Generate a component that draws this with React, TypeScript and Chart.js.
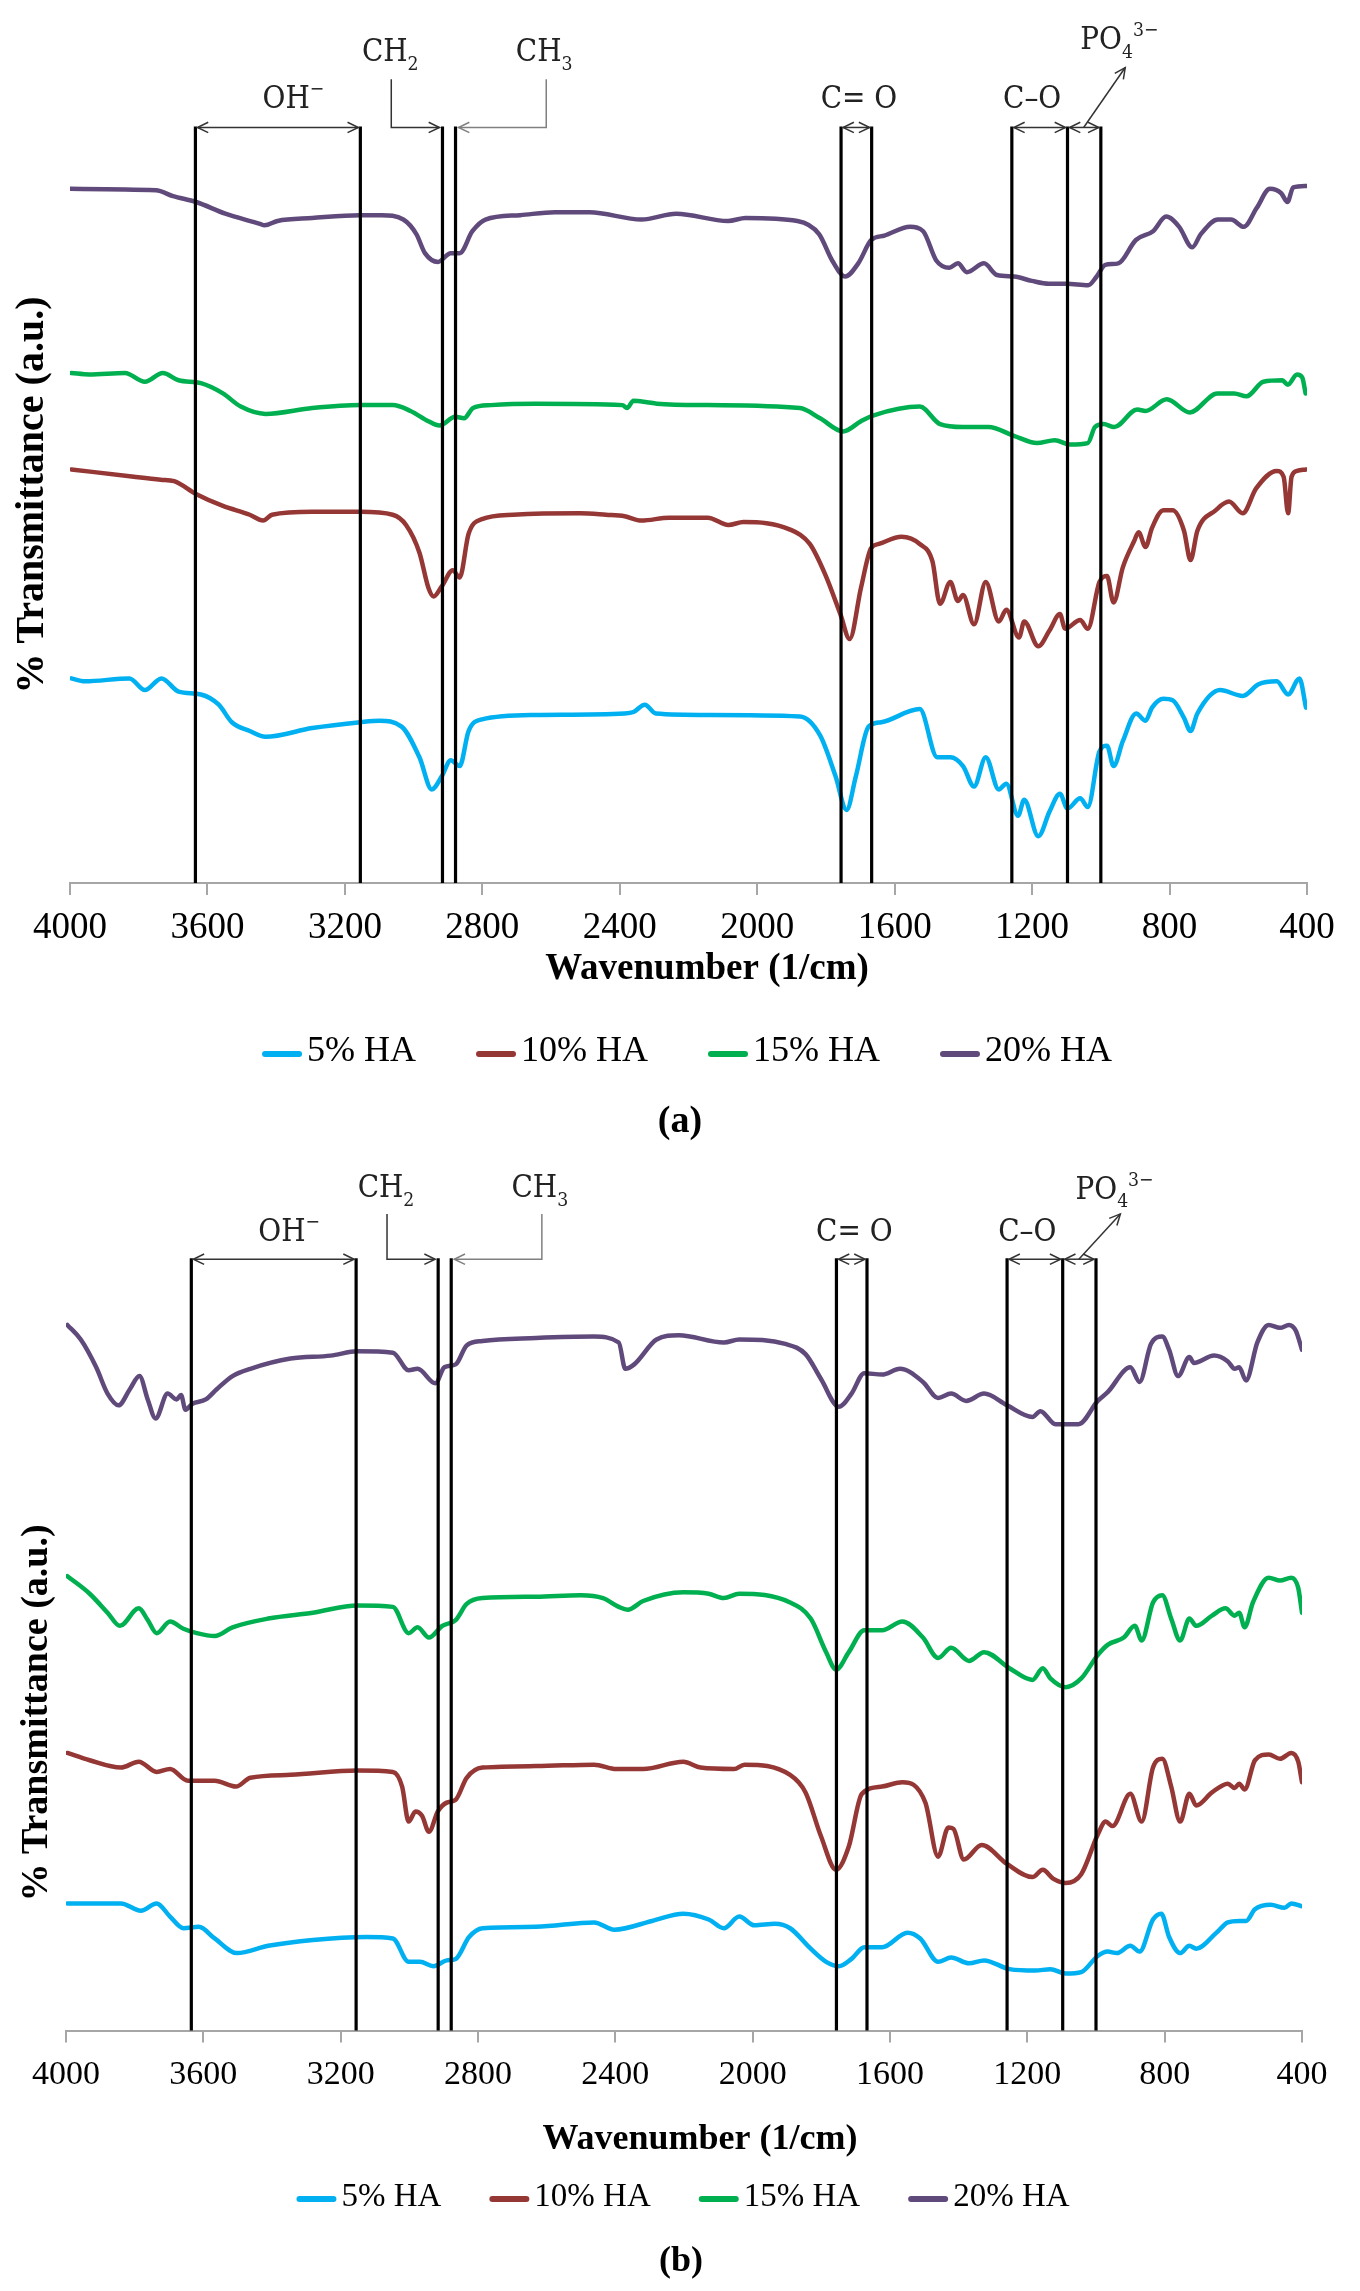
import React, { useEffect, useRef } from 'react';
import { Chart, registerables } from 'chart.js';

Chart.register(...registerables);

const wavenumberTicks = [4000, 3600, 3200, 2800, 2400, 2000, 1600, 1200, 800, 400];
const seriesNames = ['5% HA', '10% HA', '15% HA', '20% HA'];
const seriesColors = ['#00B0F0', '#953735', '#00B050', '#604A7B'];

// Panel (a): [wavenumber, transmittance (a.u., offset)]
const a5: [number, number][] = [[3996,140],[3957,138],[3827,140],[3782,132],[3734,140],[3684,131],[3619,129],[3567,122],[3529,110],[3477,104],[3431,100],[3295,106],[3155,110],[3100,111],[3035,107],[2983,86],[2947,64],[2918,73],[2892,84],[2866,80],[2840,104],[2801,112],[2645,115],[2386,116],[2360,117],[2327,122],[2295,116],[2144,115],[1876,114],[1817,101],[1772,73],[1740,50],[1713,73],[1676,107],[1639,110],[1527,119],[1476,86],[1438,86],[1401,80],[1369,66],[1335,86],[1297,64],[1275,68],[1241,46],[1223,57],[1182,32],[1149,49],[1119,61],[1097,51],[1060,58],[1038,52],[1004,90],[982,94],[963,80],[936,97],[897,116],[870,111],[851,120],[818,126],[791,125],[758,113],[739,104],[719,116],[653,132],[587,128],[541,136],[488,138],[455,129],[422,140],[403,120]];
const a10: [number, number][] = [[3996,283],[3814,278],[3736,276],[3697,275],[3632,266],[3555,258],[3477,252],[3438,248],[3412,252],[3295,254],[3155,254],[3061,252],[3022,245],[2983,226],[2957,202],[2942,196],[2918,203],[2886,214],[2866,209],[2840,239],[2801,249],[2710,252],[2516,253],[2440,252],[2386,251],[2337,248],[2256,250],[2144,250],[2084,245],[2040,247],[1906,242],[1847,232],[1802,211],[1758,184],[1731,167],[1698,202],[1669,229],[1646,232],[1580,237],[1527,232],[1490,220],[1468,191],[1438,206],[1416,193],[1401,197],[1369,177],[1335,206],[1297,179],[1275,187],[1238,168],[1223,179],[1182,162],[1149,173],[1119,184],[1104,174],[1060,180],[1038,174],[1004,206],[982,210],[963,192],[936,216],[903,234],[890,240],[870,230],[851,243],[818,255],[791,255],[758,241],[739,221],[719,241],[666,255],[627,261],[587,253],[548,270],[488,282],[468,278],[455,253],[445,278],[429,282],[403,283]];
const a15: [number, number][] = [[3996,349],[3944,348],[3840,349],[3782,343],[3730,349],[3684,344],[3619,342],[3555,335],[3503,326],[3431,321],[3295,325],[3155,327],[3061,327],[3009,323],[2957,316],[2925,313],[2879,319],[2853,318],[2827,325],[2775,327],[2645,328],[2392,327],[2379,325],[2360,330],[2321,329],[2292,328],[2144,327],[1876,325],[1817,318],[1750,309],[1698,316],[1661,320],[1527,326],[1468,314],[1401,312],[1327,312],[1253,306],[1186,301],[1134,303],[1090,300],[1038,301],[1017,312],[992,314],[961,312],[894,324],[870,323],[808,331],[741,322],[661,335],[612,335],[576,333],[527,343],[472,344],[456,341],[429,348],[414,346],[404,335]];
const a20: [number, number][] = [[4000,475],[3750,474],[3700,470],[3633,466],[3548,458],[3447,451],[3434,450],[3396,453],[3295,455],[3156,457],[3093,457],[3030,454],[2992,444],[2967,431],[2929,425],[2892,431],[2866,431],[2829,446],[2791,454],[2690,457],[2589,459],[2488,459],[2337,454],[2236,458],[2085,453],[2034,455],[1883,453],[1820,444],[1782,426],[1744,415],[1706,424],[1668,440],[1630,443],[1555,449],[1517,446],[1479,426],[1441,421],[1416,424],[1390,418],[1340,424],[1302,416],[1252,415],[1201,412],[1151,410],[1100,410],[1037,409],[1012,415],[987,423],[949,424],[898,440],[848,446],[810,456],[772,449],[734,435],[709,444],[659,454],[621,454],[584,449],[546,462],[508,475],[475,472],[457,466],[440,476],[401,477]];

// Panel (b)
const b5: [number, number][] = [[3996,87],[3840,87],[3782,82],[3736,87],[3697,78],[3658,70],[3613,71],[3567,63],[3502,53],[3411,58],[3281,62],[3125,64],[3048,63],[3002,47],[2969,47],[2930,44],[2891,48],[2865,49],[2826,64],[2787,70],[2631,71],[2462,74],[2403,69],[2293,75],[2202,80],[2128,76],[2084,70],[2039,78],[1995,72],[1935,73],[1891,70],[1831,56],[1786,47],[1749,44],[1712,49],[1675,57],[1623,57],[1549,67],[1512,63],[1460,47],[1422,50],[1370,46],[1326,48],[1252,42],[1177,41],[1133,42],[1088,39],[1043,40],[995,51],[966,54],[939,53],[900,58],[873,54],[834,76],[810,80],[787,64],[755,53],[728,58],[708,56],[649,67],[616,74],[583,75],[563,75],[537,83],[491,86],[451,84],[431,87],[400,85]];
const b10: [number, number][] = [[3996,190],[3931,185],[3840,180],[3788,184],[3736,177],[3697,179],[3645,171],[3567,171],[3505,167],[3463,173],[3346,175],[3151,178],[3048,177],[3021,167],[3002,143],[2982,150],[2963,147],[2943,136],[2917,150],[2891,156],[2865,158],[2833,173],[2787,180],[2631,181],[2462,182],[2397,179],[2319,179],[2202,184],[2152,180],[2054,179],[2024,182],[1891,175],[1846,163],[1801,133],[1757,110],[1720,126],[1682,162],[1623,167],[1564,170],[1497,156],[1460,119],[1430,139],[1415,138],[1385,117],[1333,127],[1259,114],[1185,105],[1155,110],[1125,104],[1088,101],[1043,107],[995,134],[972,143],[952,140],[900,162],[867,143],[834,180],[807,186],[781,167],[755,143],[728,162],[708,154],[662,163],[616,169],[596,166],[583,169],[567,165],[537,185],[497,189],[464,186],[431,190],[411,184],[400,170]];
const b15: [number, number][] = [[3996,311],[3931,299],[3879,286],[3843,277],[3788,289],[3762,281],[3736,272],[3697,280],[3658,275],[3619,272],[3567,270],[3515,276],[3411,282],[3281,286],[3151,291],[3048,290],[3002,272],[2976,276],[2943,269],[2904,277],[2865,281],[2833,292],[2787,296],[2631,297],[2501,298],[2436,296],[2390,290],[2364,288],[2319,294],[2202,300],[2128,299],[2084,296],[2039,299],[1891,293],[1831,282],[1786,259],[1757,247],[1720,259],[1675,274],[1623,274],[1564,280],[1504,269],[1460,255],[1422,262],[1370,253],[1326,259],[1252,248],[1185,240],[1155,248],[1133,241],[1088,235],[1043,241],[995,257],[966,264],[919,269],[887,277],[867,267],[834,293],[807,298],[781,282],[755,267],[728,282],[708,277],[662,284],[623,289],[596,284],[583,286],[567,276],[543,293],[497,310],[464,308],[431,310],[411,303],[400,286]];
const b20: [number, number][] = [[3996,483],[3957,473],[3912,454],[3879,436],[3847,428],[3814,439],[3786,448],[3762,432],[3739,419],[3704,436],[3678,432],[3665,435],[3652,425],[3632,429],[3593,432],[3561,439],[3515,448],[3463,453],[3346,460],[3229,462],[3151,465],[3048,464],[3002,452],[2976,453],[2924,443],[2898,454],[2865,456],[2833,469],[2787,472],[2631,474],[2462,475],[2390,471],[2371,453],[2345,456],[2280,473],[2215,476],[2084,471],[2039,473],[1905,470],[1846,463],[1801,446],[1749,427],[1712,436],[1675,450],[1623,449],[1571,453],[1504,444],[1460,433],[1422,436],[1378,431],[1326,436],[1259,428],[1185,420],[1162,424],[1118,415],[1051,415],[995,431],[966,437],[900,454],[873,444],[840,470],[807,475],[787,466],[761,448],[728,461],[715,457],[656,462],[616,458],[596,453],[583,454],[563,445],[530,471],[497,483],[464,481],[438,483],[418,479],[400,466]];

// Band assignments (wavenumbers, 1/cm)
const bandLines = [3635, 3155, 2916, 2878, 1756, 1667, 1259, 1097, 1000];
const spanArrows: [number, number][] = [[3635, 3155], [1756, 1667], [1259, 1097], [1097, 1000]];
const ch2Bracket = [3065, 2916];
const ch3Bracket = [2614, 2878];
const po4Pointer = [1050, 929];
type Part = [string, number];
const bandLabels: { parts: Part[]; wn: number; level: string }[] = [
  { parts: [['OH', 0], ['\u2212', 1]], wn: 3350, level: 'low' },
  { parts: [['CH', 0], ['2', -1]], wn: 3068, level: 'high' },
  { parts: [['CH', 0], ['3', -1]], wn: 2620, level: 'high' },
  { parts: [['C= O', 0]], wn: 1704, level: 'low' },
  { parts: [['C\u2013O', 0]], wn: 1200, level: 'low' },
  { parts: [['PO', 0], ['4', -1], ['3\u2212', 1]], wn: 946, level: 'po4' },
];

const SERIF = '"Liberation Serif", "Times New Roman", serif';
const ANNOT = '"DejaVu Serif Condensed", "DejaVu Serif", serif';

function drawChem(ctx: CanvasRenderingContext2D, parts: Part[], cx: number, cy: number, size: number) {
  const small = size * 0.62;
  const fMain = `${size}px ${ANNOT}`;
  const fSmall = `${small}px ${ANNOT}`;
  let total = 0;
  const ws = parts.map(([t, s]) => {
    ctx.font = s ? fSmall : fMain;
    const w = ctx.measureText(t).width;
    total += w;
    return w;
  });
  let x = cx - total / 2;
  ctx.textAlign = 'left';
  ctx.textBaseline = 'alphabetic';
  const base = cy + size * 0.36;
  parts.forEach(([t, s], i) => {
    ctx.font = s ? fSmall : fMain;
    const yy = s === -1 ? base + size * 0.28 : s === 1 ? base - size * 0.42 : base;
    ctx.fillText(t, x, yy);
    x += ws[i];
  });
}

function head(ctx: CanvasRenderingContext2D, x: number, y: number, ang: number) {
  const L = 12, A = 0.45;
  ctx.beginPath();
  ctx.moveTo(x - L * Math.cos(ang - A), y - L * Math.sin(ang - A));
  ctx.lineTo(x, y);
  ctx.lineTo(x - L * Math.cos(ang + A), y - L * Math.sin(ang + A));
  ctx.stroke();
}

function seg(ctx: CanvasRenderingContext2D, x1: number, y1: number, x2: number, y2: number) {
  ctx.beginPath();
  ctx.moveTo(x1, y1);
  ctx.lineTo(x2, y2);
  ctx.stroke();
}

function makeOverlay(cfg: any) {
  return {
    id: 'overlay',
    afterDraw(chart: any) {
      const ctx: CanvasRenderingContext2D = chart.ctx;
      const xs = chart.scales.x;
      const ys = chart.scales.y;
      const px = (w: number) => xs.getPixelForValue(w);
      const py = (v: number) => ys.getPixelForValue(v);
      ctx.save();
      // vertical band lines
      ctx.strokeStyle = '#000';
      ctx.lineWidth = 3.2;
      bandLines.forEach((w) => seg(ctx, px(w), py(cfg.arrowRow) - 1, px(w), py(0)));
      const rowY = py(cfg.arrowRow);
      ctx.lineWidth = 1.5;
      ctx.strokeStyle = '#333';
      spanArrows.forEach(([w1, w2]) => {
        const x1 = px(w1) + 2, x2 = px(w2) - 2;
        seg(ctx, x1, rowY, x2, rowY);
        head(ctx, x1, rowY, Math.PI);
        head(ctx, x2, rowY, 0);
      });
      // CH2 bracket
      const bt = py(cfg.bracketTop);
      ctx.beginPath();
      ctx.moveTo(px(ch2Bracket[0]), bt);
      ctx.lineTo(px(ch2Bracket[0]), rowY);
      ctx.lineTo(px(ch2Bracket[1]) - 3, rowY);
      ctx.stroke();
      head(ctx, px(ch2Bracket[1]) - 3, rowY, 0);
      // CH3 bracket (grey)
      ctx.strokeStyle = '#808080';
      ctx.beginPath();
      ctx.moveTo(px(ch3Bracket[0]), bt);
      ctx.lineTo(px(ch3Bracket[0]), rowY);
      ctx.lineTo(px(ch3Bracket[1]) + 3, rowY);
      ctx.stroke();
      head(ctx, px(ch3Bracket[1]) + 3, rowY, Math.PI);
      // PO4 pointer
      ctx.strokeStyle = '#333';
      const tx = px(po4Pointer[1]), ty = py(cfg.po4Tip);
      const sx = px(po4Pointer[0]), sy = rowY;
      seg(ctx, sx, sy, tx, ty);
      head(ctx, tx, ty, Math.atan2(ty - sy, tx - sx));
      // labels
      ctx.fillStyle = '#222';
      bandLabels.forEach((l) => {
        const v = l.level === 'low' ? cfg.lowLabel : l.level === 'high' ? cfg.highLabel : cfg.po4Label;
        drawChem(ctx, l.parts, px(l.wn), py(v), cfg.annotSize);
      });
      // axis titles
      ctx.fillStyle = '#000';
      ctx.textAlign = 'center';
      ctx.textBaseline = 'middle';
      ctx.font = `bold ${cfg.xTitle.size}px ${SERIF}`;
      ctx.fillText('Wavenumber (1/cm)', cfg.xTitle.cx, cfg.xTitle.cy);
      ctx.save();
      ctx.translate(cfg.yTitle.cx, cfg.yTitle.cy);
      ctx.rotate(-Math.PI / 2);
      ctx.font = `bold ${cfg.yTitle.size}px ${SERIF}`;
      ctx.fillText('% Transmittance (a.u.)', 0, 0);
      ctx.restore();
      // legend
      ctx.font = `${cfg.legend.size}px ${SERIF}`;
      const ws = seriesNames.map((n) => ctx.measureText(n).width);
      const items = ws.map((w) => 40 + 5 + w);
      const total = items.reduce((a, b) => a + b, 0) + cfg.legend.gap * (items.length - 1);
      let lx = cfg.legend.cx - total / 2;
      seriesNames.forEach((n, i) => {
        ctx.strokeStyle = seriesColors[i];
        ctx.lineWidth = 6;
        ctx.lineCap = 'round';
        seg(ctx, lx + 3, cfg.legend.cy + 2, lx + 37, cfg.legend.cy + 2);
        ctx.fillStyle = '#000';
        ctx.textAlign = 'left';
        ctx.fillText(n, lx + 45, cfg.legend.cy);
        lx += items[i] + cfg.legend.gap;
      });
      // panel label
      ctx.textAlign = 'center';
      ctx.font = `bold ${cfg.panel.size}px ${SERIF}`;
      ctx.fillText(cfg.panel.text, cfg.panel.cx, cfg.panel.cy);
      ctx.restore();
    },
  };
}

function Panel({ top, height, series, cfg }: { top: number; height: number; series: [number, number][][]; cfg: any }) {
  const ref = useRef<HTMLCanvasElement>(null);
  useEffect(() => {
    const chart = new Chart(ref.current as HTMLCanvasElement, {
      type: 'line',
      data: {
        datasets: series.map((s, i) => ({
          label: seriesNames[i],
          data: s.map(([x, y]) => ({ x, y })),
          borderColor: seriesColors[i],
          backgroundColor: seriesColors[i],
          borderWidth: 4.5,
          borderCapStyle: 'round',
          borderJoinStyle: 'round',
          pointRadius: 0,
          cubicInterpolationMode: 'monotone',
          fill: false,
        })),
      },
      options: {
        responsive: false,
        animation: false,
        devicePixelRatio: 1,
        layout: { padding: { top: cfg.padTop, left: 0, right: cfg.padRight, bottom: height - cfg.axisY - 70 } },
        plugins: { legend: { display: false }, tooltip: { enabled: false } },
        scales: {
          x: {
            type: 'linear',
            reverse: true,
            min: 400,
            max: 4000,
            afterBuildTicks: (s: any) => { s.ticks = wavenumberTicks.map((v) => ({ value: v })); },
            afterFit: (s: any) => { s.height = 70; },
            ticks: {
              autoSkip: false, maxRotation: 0, minRotation: 0, color: '#000', padding: cfg.tickPad,
              font: { family: '"Liberation Serif", "Times New Roman", serif', size: cfg.tickSize },
              callback: (v: any) => String(v),
            },
            grid: { drawOnChartArea: false, drawTicks: true, tickLength: 12, color: '#a6a6a6', lineWidth: 2 },
            border: { display: true, color: '#a6a6a6', width: 2 },
          },
          y: {
            type: 'linear',
            min: 0,
            max: cfg.yMax,
            ticks: { display: false },
            grid: { display: false },
            border: { display: false },
            afterFit: (s: any) => { s.width = cfg.left; },
          },
        },
      } as any,
      plugins: [makeOverlay(cfg)],
    });
    return () => chart.destroy();
  }, []);
  return <canvas ref={ref} width={1360} height={height} style={{ position: 'absolute', left: 0, top, width: 1360, height, display: 'block' }} />;
}

const cfgA = {
  yMax: 531, padTop: 107, padRight: 53, left: 70, axisY: 883, tickSize: 37, tickPad: 11,
  arrowRow: 517, lowLabel: 538, highLabel: 570, po4Label: 578, bracketTop: 550, po4Tip: 558, annotSize: 31,
  xTitle: { cx: 707, cy: 969, size: 37 }, yTitle: { cx: 33, cy: 495, size: 40 },
  legend: { cx: 687, cy: 1052, size: 36, gap: 60 }, panel: { text: '(a)', cx: 680, cy: 1122, size: 38 },
};
const cfgB = {
  yMax: 534.3, padTop: 100, padRight: 58, left: 66, axisY: 880.5, tickSize: 34, tickPad: 12,
  arrowRow: 528, lowLabel: 548, highLabel: 578, po4Label: 577, bracketTop: 559, po4Tip: 559, annotSize: 31,
  xTitle: { cx: 700, cy: 990, size: 36 }, yTitle: { cx: 37, cy: 563, size: 38 },
  legend: { cx: 683, cy: 1047, size: 33, gap: 48 }, panel: { text: '(b)', cx: 681, cy: 1112, size: 36 },
};

export default function App() {
  return (
    <div style={{ position: 'absolute', left: 0, top: 0, width: 1360, height: 2291, background: '#fff' }}>
      <Panel top={0} height={1150} series={[a5, a10, a15, a20]} cfg={cfgA} />
      <Panel top={1150} height={1141} series={[b5, b10, b15, b20]} cfg={cfgB} />
    </div>
  );
}
